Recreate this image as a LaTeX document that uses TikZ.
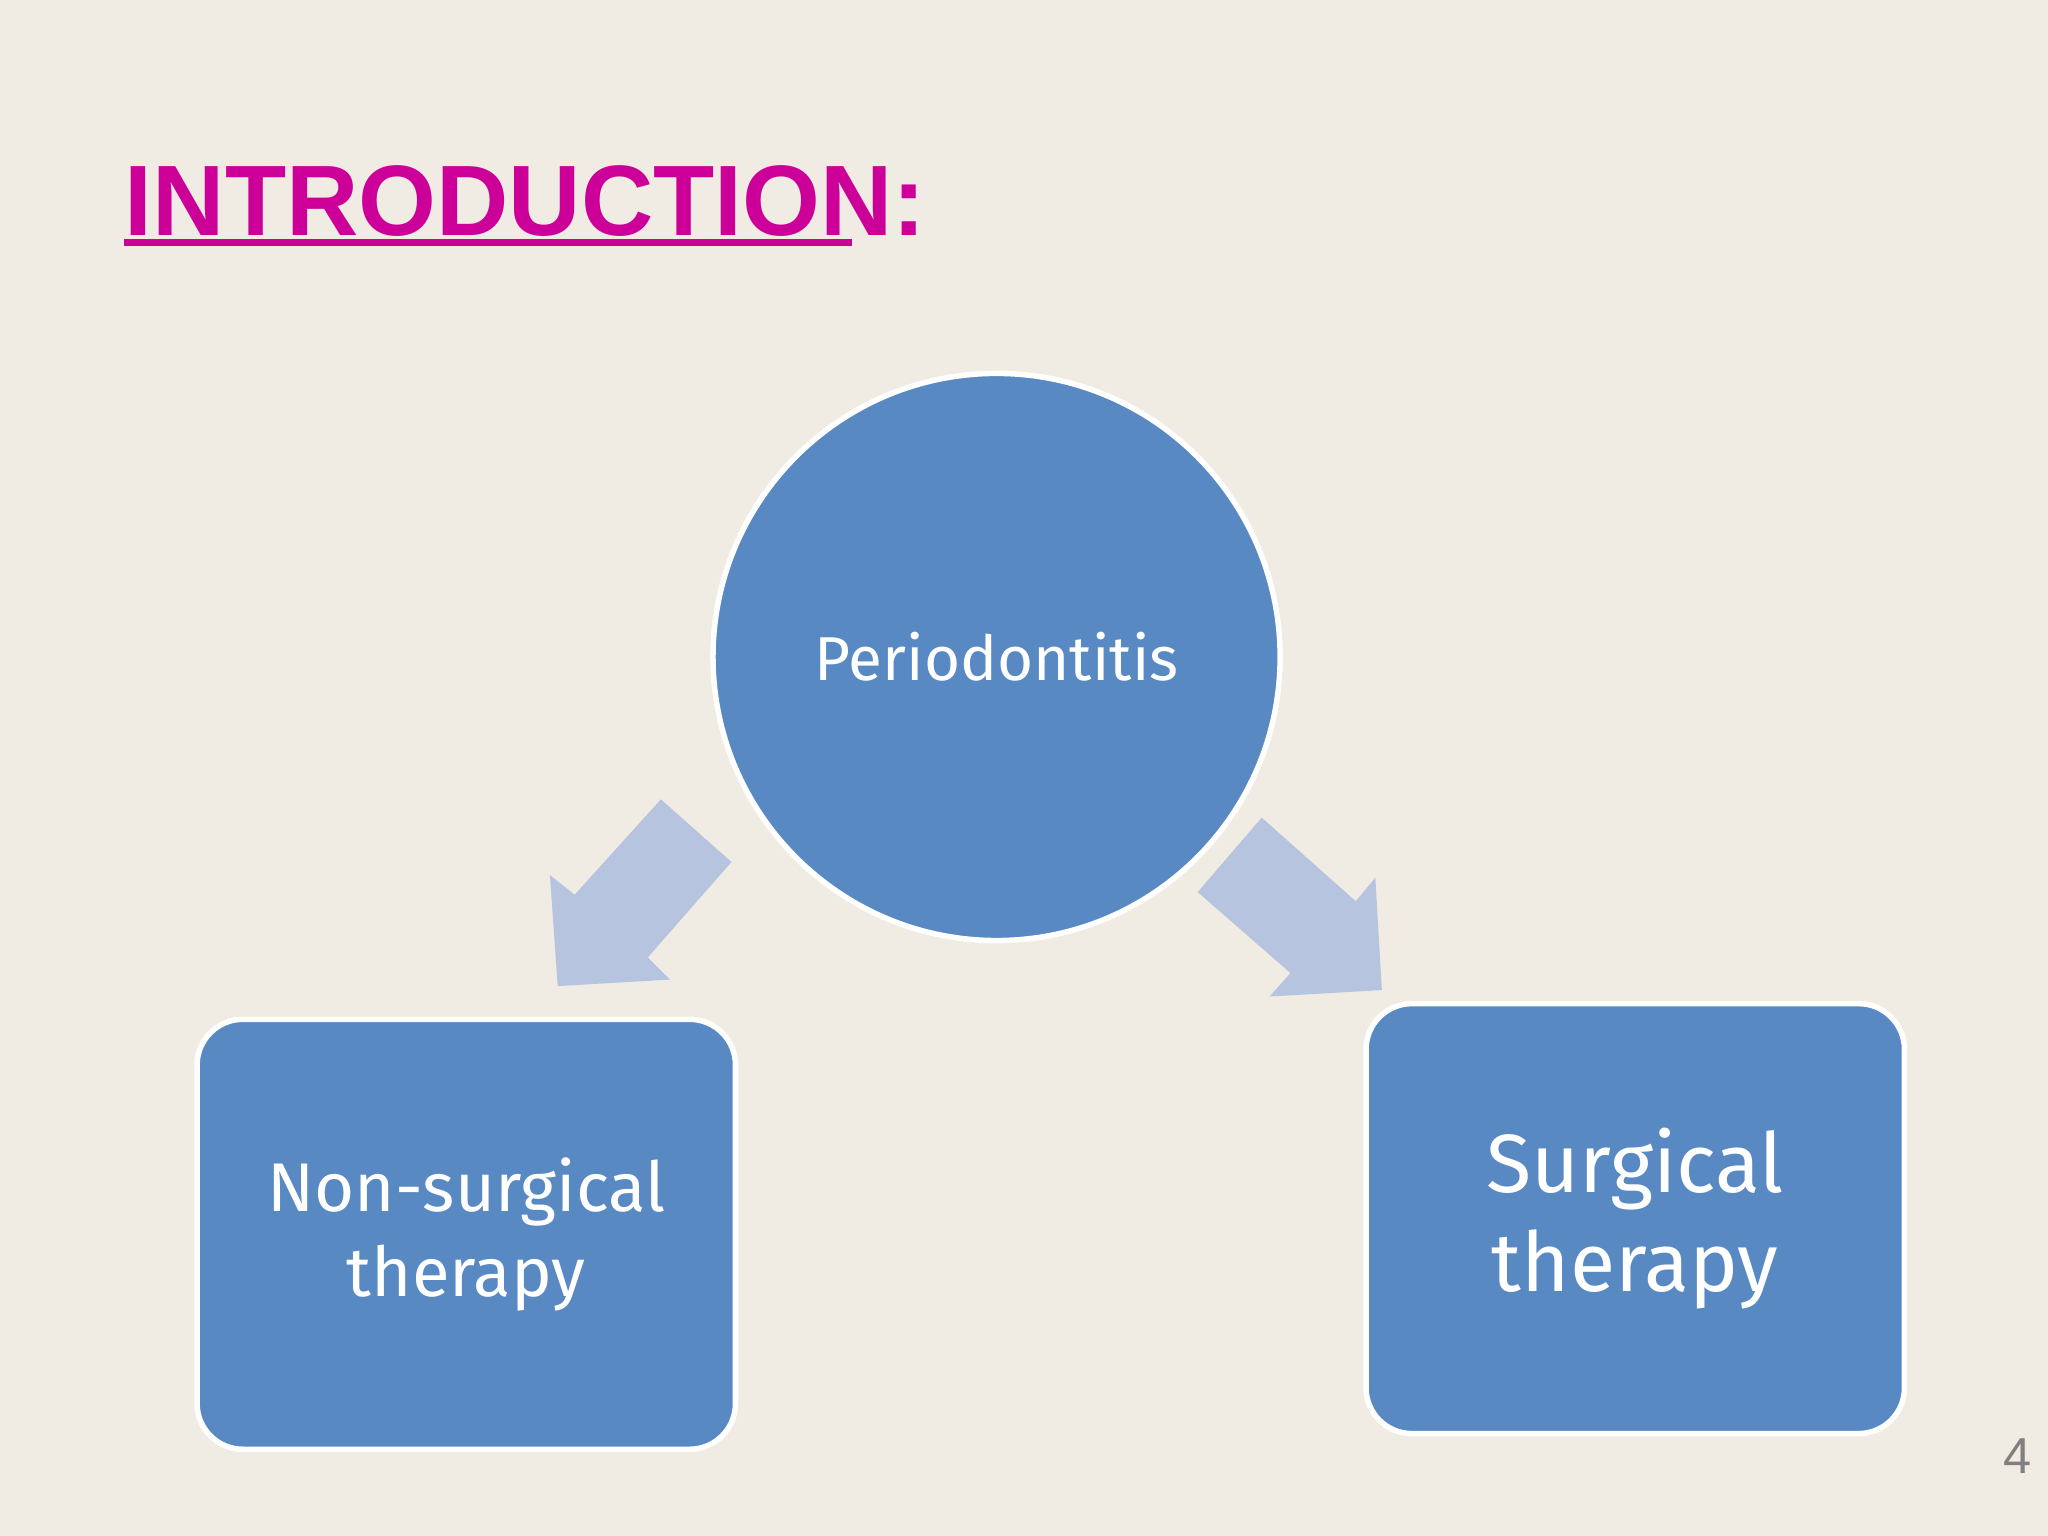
\documentclass[tikz,border=0pt]{standalone}
\usepackage{fontspec}
\setmainfont{Liberation Sans}
\newfontfamily\handfont{Fira Sans}
\usetikzlibrary{positioning}
\definecolor{slidebg}{HTML}{F0EBE3}
\definecolor{boxblue}{HTML}{5889C2}
\definecolor{arrowblue}{HTML}{B7C4DF}
\definecolor{titlemag}{HTML}{CC0099}
\begin{document}
\begin{tikzpicture}[x=0.01cm,y=-0.01cm,
  box/.style={draw=white, line width=1.2pt, fill=boxblue, rounded corners=0.35cm,
    minimum width=4.12cm, minimum height=3.29cm, text=white, align=center, font=\handfont},
  blockarrow/.style={fill=arrowblue, draw=none}]
  % background
  \fill[slidebg] (0,0) rectangle (1568,1176);
  \useasboundingbox (0,0) rectangle (1568,1176);

  % title
  \node[anchor=base west, inner sep=0pt, text=titlemag, font=\fontsize{21.8}{24}\selectfont\bfseries] (title) at (95,180) {INTRODUCTION:};
  \draw[titlemag, line width=1.5pt] (95,186) -- (652,186);

  % circle
  \node[circle, draw=white, line width=1.2pt, fill=boxblue, minimum size=4.34cm, text=white,
    font=\handfont\fontsize{13.5}{16}\selectfont] (perio) at (763,503) {Periodontitis};

  % boxes
  \node[box, font=\handfont\fontsize{15}{18.5}\selectfont] (nonsurg) at (357,945) {Non-surgical\\therapy};
  \node[box, font=\handfont\fontsize{18}{21.5}\selectfont] (surg) at (1252,933) {Surgical\\therapy};

  % arrows
  \fill[blockarrow] (421,670) -- (440,685) -- (506,612) -- (560,660) -- (496,733) -- (513,750) -- (427,755) -- cycle;
  \fill[blockarrow] (966,626) -- (1038,690) -- (1053,672) -- (1058,758) -- (972,763) -- (988,745) -- (917,683) -- cycle;

  % page number
  \node[text=gray, font=\rmfamily\fontsize{11}{13}\selectfont] (pagenum) at (1545,1115) {4};
\end{tikzpicture}
\end{document}
